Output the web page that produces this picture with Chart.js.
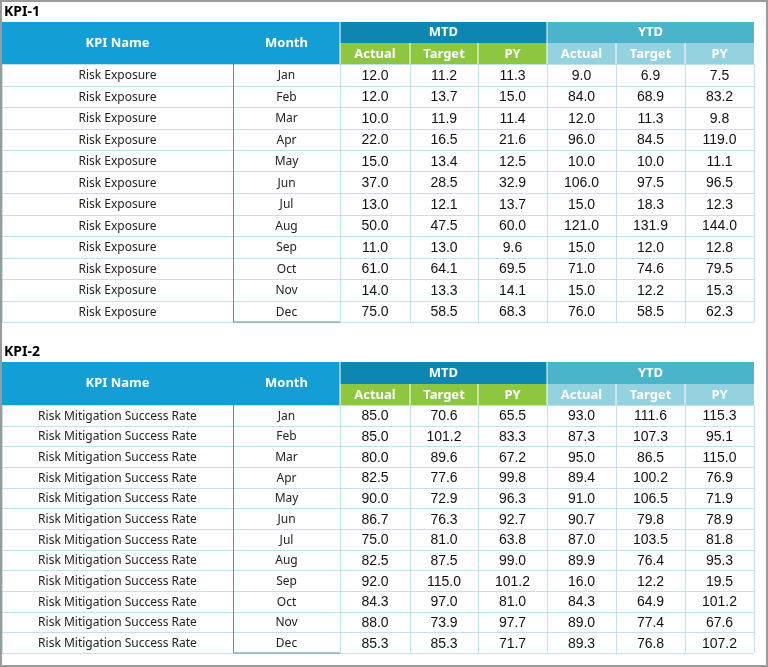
<!DOCTYPE html>
<html><head><meta charset="utf-8">
<script src="https://cdn.jsdelivr.net/npm/chart.js@4"></script>
<style>html,body{margin:0;padding:0;background:#fff}#w{width:768px;height:667px}</style>
</head><body><div id="w"><canvas id="c"></canvas></div>
<script>
const months=["Jan","Feb","Mar","Apr","May","Jun","Jul","Aug","Sep","Oct","Nov","Dec"];
const kpi1Name="Risk Exposure";
const kpi1MtdActual=[12.0,12.0,10.0,22.0,15.0,37.0,13.0,50.0,11.0,61.0,14.0,75.0];
const kpi1MtdTarget=[11.2,13.7,11.9,16.5,13.4,28.5,12.1,47.5,13.0,64.1,13.3,58.5];
const kpi1MtdPY=[11.3,15.0,11.4,21.6,12.5,32.9,13.7,60.0,9.6,69.5,14.1,68.3];
const kpi1YtdActual=[9.0,84.0,12.0,96.0,10.0,106.0,15.0,121.0,15.0,71.0,15.0,76.0];
const kpi1YtdTarget=[6.9,68.9,11.3,84.5,10.0,97.5,18.3,131.9,12.0,74.6,12.2,58.5];
const kpi1YtdPY=[7.5,83.2,9.8,119.0,11.1,96.5,12.3,144.0,12.8,79.5,15.3,62.3];
const kpi2Name="Risk Mitigation Success Rate";
const kpi2MtdActual=[85.0,85.0,80.0,82.5,90.0,86.7,75.0,82.5,92.0,84.3,88.0,85.3];
const kpi2MtdTarget=[70.6,101.2,89.6,77.6,72.9,76.3,81.0,87.5,115.0,97.0,73.9,85.3];
const kpi2MtdPY=[65.5,83.3,67.2,99.8,96.3,92.7,63.8,99.0,101.2,81.0,97.7,71.7];
const kpi2YtdActual=[93.0,87.3,95.0,89.4,91.0,90.7,87.0,89.9,16.0,84.3,89.0,89.3];
const kpi2YtdTarget=[111.6,107.3,86.5,100.2,106.5,79.8,103.5,76.4,12.2,64.9,77.4,76.8];
const kpi2YtdPY=[115.3,95.1,115.0,76.9,71.9,78.9,81.8,95.3,19.5,101.2,67.6,107.2];
const colLabels=["Actual","Target","PY"];

const colEdges=[2,233,340,410,478,547,616,685,754];
const tables=[
 {title:"KPI-1",titleY:12,h1:22,h2:43,d0:64,d1:322,name:kpi1Name,cols:[kpi1MtdActual,kpi1MtdTarget,kpi1MtdPY,kpi1YtdActual,kpi1YtdTarget,kpi1YtdPY]},
 {title:"KPI-2",titleY:352,h1:362,h2:384,d0:405,d1:653,name:kpi2Name,cols:[kpi2MtdActual,kpi2MtdTarget,kpi2MtdPY,kpi2YtdActual,kpi2YtdTarget,kpi2YtdPY]}
];

const tablePlugin={id:'tbl',afterDraw(chart){
 const ctx=chart.ctx,xs=chart.scales.x,ys=chart.scales.y;
 const X=v=>xs.getPixelForValue(v),Y=v=>ys.getPixelForValue(v);
 ctx.save();
 ctx.strokeStyle='#9a9a9a';ctx.lineWidth=2;ctx.strokeRect(X(1),Y(1),X(767)-X(1),Y(666)-Y(1));
 ctx.textBaseline='middle';
 tables.forEach(t=>{
  ctx.fillStyle='#000';ctx.font='bold 14px "Noto Sans"';ctx.textAlign='left';
  ctx.fillText(t.title,X(4),Y(t.titleY));
  const c=colEdges;
  ctx.fillStyle='#139ED6';ctx.fillRect(X(c[0]),Y(t.h1),X(c[2])-X(c[0]),Y(t.d0)-Y(t.h1));
  ctx.fillStyle='#0D86B1';ctx.fillRect(X(c[2]),Y(t.h1),X(c[5])-X(c[2]),Y(t.h2)-Y(t.h1));
  ctx.fillStyle='#4AB4CB';ctx.fillRect(X(c[5]),Y(t.h1),X(c[8])-X(c[5]),Y(t.h2)-Y(t.h1));
  ctx.fillStyle='#8DC63F';ctx.fillRect(X(c[2]),Y(t.h2),X(c[5])-X(c[2]),Y(t.d0)-Y(t.h2));
  ctx.fillStyle='#93D2DE';ctx.fillRect(X(c[5]),Y(t.h2),X(c[8])-X(c[5]),Y(t.d0)-Y(t.h2));
  ctx.strokeStyle='#ffffff';ctx.lineWidth=1;
  for(let i=3;i<8;i++){if(i===5)continue;ctx.beginPath();ctx.moveTo(X(c[i]),Y(t.h2));ctx.lineTo(X(c[i]),Y(t.d0));ctx.stroke();}
  ctx.beginPath();ctx.moveTo(X(c[5]),Y(t.h1));ctx.lineTo(X(c[5]),Y(t.d0));ctx.stroke();
  ctx.beginPath();ctx.moveTo(X(c[2]),Y(t.h1));ctx.lineTo(X(c[2]),Y(t.d0));ctx.stroke();
  ctx.fillStyle='#fff';ctx.font='bold 13px "Noto Sans"';ctx.textAlign='center';
  const hm=(Y(t.h1)+Y(t.d0))/2;
  ctx.fillText("KPI Name",(X(c[0])+X(c[1]))/2,hm);
  ctx.fillText("Month",(X(c[1])+X(c[2]))/2,hm);
  ctx.fillText("MTD",(X(c[2])+X(c[5]))/2,(Y(t.h1)+Y(t.h2))/2);
  ctx.fillText("YTD",(X(c[5])+X(c[8]))/2,(Y(t.h1)+Y(t.h2))/2);
  for(let i=0;i<6;i++)ctx.fillText(colLabels[i%3],(X(c[i+2])+X(c[i+3]))/2,(Y(t.h2)+Y(t.d0))/2+1);
  const rh=(t.d1-t.d0)/12;
  ctx.strokeStyle='#BFE2EE';ctx.lineWidth=1;
  for(let r=0;r<=12;r++){const y=Math.round(Y(t.d0+r*rh))+0.5;ctx.beginPath();ctx.moveTo(X(c[0]),y);ctx.lineTo(X(c[8]),y);ctx.stroke();}
  for(let i=0;i<=8;i++){if(i===1)continue;const x=Math.round(X(c[i]))+0.5;ctx.beginPath();ctx.moveTo(x,Y(t.d0));ctx.lineTo(x,Y(t.d1));ctx.stroke();}
  ctx.strokeStyle='#5b8fa6';const mx=Math.round(X(c[1]))+0.5;
  ctx.beginPath();ctx.moveTo(mx,Y(t.d0));ctx.lineTo(mx,Y(t.d1));ctx.lineTo(X(c[2]),Y(t.d1));ctx.stroke();
  for(let r=0;r<12;r++){
   const ym=(Y(t.d0+r*rh)+Y(t.d0+(r+1)*rh))/2+1;
   ctx.fillStyle='#222';ctx.font='12px "Noto Sans"';
   ctx.fillText(t.name,(X(c[0])+X(c[1]))/2,ym);
   ctx.fillText(months[r],(X(c[1])+X(c[2]))/2,ym);
   ctx.font='14px "Liberation Sans"';ctx.fillStyle='#111';
   t.cols.forEach((arr,i)=>ctx.fillText(arr[r].toFixed(1),(X(c[i+2])+X(c[i+3]))/2,ym));
  }
 });
 ctx.restore();
}};

new Chart(document.getElementById('c'),{type:'scatter',
 data:{datasets:[{data:[],pointRadius:0}]},
 options:{responsive:true,maintainAspectRatio:false,animation:false,
  layout:{padding:0},
  plugins:{legend:{display:false},tooltip:{enabled:false}},
  scales:{x:{type:'linear',min:0,max:768,display:false},y:{type:'linear',min:0,max:667,reverse:true,display:false}}},
 plugins:[tablePlugin]});
</script></body></html>
